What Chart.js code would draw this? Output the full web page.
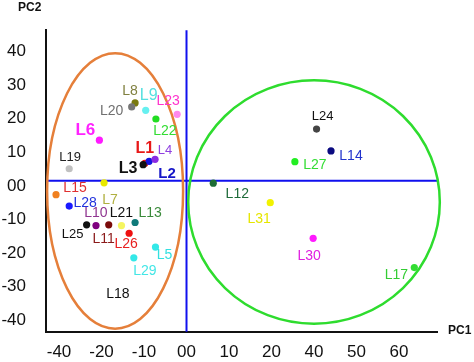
<!DOCTYPE html>
<html>
<head>
<meta charset="utf-8">
<script src="https://cdn.jsdelivr.net/npm/chart.js@4.4.1/dist/chart.umd.min.js"></script>
<style>
  html, body { margin: 0; padding: 0; background: #fff; }
  #wrap { width: 474px; height: 362px; position: relative; }
</style>
</head>
<body>
<div id="wrap"><canvas id="pca-chart"></canvas></div>
<script>
// Datos de la gráfica PCA (PC1 vs PC2)
const nombres = ['L1','L2','L3','L4','L5','L6','L7','L8','L9','L10','L11','L12','L13','L14','L15',
  'L17','L18','L19','L20','L21','L22','L23','L24','L25','L26','L27','L28','L29','L30','L31'];
const pc1 = [-9.8, -8.8, -10.2, -7.4, -7.3, -20.5, -19.4, -12.1, -9.6, -21.3, -18.3, 6.3, -12.1, 34.0, -30.7,
  53.6, -16.4, -27.6, -12.9, -15.3, -7.2, -2.2, 30.6, -23.5, -13.5, 25.5, -27.6, -12.4, 29.8, 19.7];
const pc2 = [6.7, 7.3, 6.3, 7.9, -18.2, 13.6, 0.9, 24.7, 22.5, -11.8, -11.6, 0.8, -10.9, 10.4, -2.6,
  -24.3, -29.0, 5.1, 23.5, -11.8, 19.9, 21.3, 16.9, -11.6, -14.1, 7.2, -6.0, -21.4, -15.6, -5.0];

// posiciones de las marcas y lo que dicen (la escala no es regular en PC1)
const ticksX = [-30, -20, -10, 0, 10, 20, 30, 40, 50];
const etiquetasX = ['-40', '-20', '-10', '00', '10', '20', '40', '50', '60'];
const ticksY = [-40, -30, -20, -10, 0, 10, 20, 30, 40];
const etiquetasY = ['-40', '-30', '-20', '-10', '00', '10', '20', '30', '40'];

// grupos (elipses): centro y radios en unidades de los ejes
const grupos = [
  { cx: -16.8, cy: -1.5, rx: 16.0, ry: 41.0, color: '#e57f3a' },
  { cx: 30.0, cy: -4.8, rx: 29.6, ry: 36.2, color: '#2edc2e' }
];

// estilos por punto
const coloresPunto = ['#e81818','#1515e0','#111111','#8a2be2','#33e8e8','#ff1aff','#e8e800','#7a7a10','#66f0f0','#800080',
  '#7a0a0a','#1d6b35','#0f7a7a','#0a0a80','#f08020','#33dd33','rgba(0,0,0,0)','#c0c0c0','#777777','#f5f560',
  '#22dd22','#ff88ee','#444444','#111111','#ee1111','#22ee22','#1a1aff','#33e8e8','#ff1aff','#f2f200'];
const coloresTexto = ['#e81818','#1515c8','#111111','#9040e0','#33e0e0','#ff22ff','#b0b040','#808040','#55e0e0','#903590',
  '#8b1a1a','#1f6b3a','#3a8a3a','#2233cc','#e03030','#33cc33','#111111','#222222','#707070','#111111',
  '#33dd33','#ff33cc','#111111','#111111','#e82020','#33dd33','#2233dd','#44e6e6','#e020e0','#e6e600'];
const fuentes = ['bold 16px','bold 15px','bold 16px','13px','14px','bold 17px','14px','14px','16px','14px',
  '14px','14px','14px','14px','14px','14px','14px','13px','14px','14px',
  '14px','14px','13px','13px','14px','14px','14px','14px','14px','14px'];
const desfases = [[0,-15],[18,13],[-15,4],[10,-9],[9,8],[-14,-10],[6,17],[-5,-12],[3,-15],[0,-12],
  [-5,14],[24,11],[15,-9],[20,5],[19,-6],[-18,8],[1,11],[1,-11],[-20,4],[0,-12],
  [9,12],[-9,-13],[6,-13],[-14,10],[-3,11],[20,3],[16,-3],[11,13],[-4,18],[-11,16]];

const puntos = nombres.map((n, i) => ({ x: pc1[i], y: pc2[i] }));

// dibuja ejes azules, elipses, nombres de los puntos y títulos
const extras = {
  id: 'extras',
  beforeDatasetsDraw(chart) {
    const { ctx, chartArea: a, scales: { x, y } } = chart;
    ctx.save();
    ctx.strokeStyle = '#1010ee';
    ctx.lineWidth = 2;
    ctx.beginPath();
    const y0 = y.getPixelForValue(1.5);
    ctx.moveTo(a.left, y0); ctx.lineTo(a.right, y0);
    const x0 = x.getPixelForValue(0);
    ctx.moveTo(x0, a.top); ctx.lineTo(x0, a.bottom);
    ctx.stroke();

    grupos.forEach(g => {
      const cx = x.getPixelForValue(g.cx), cy = y.getPixelForValue(g.cy);
      const rx = x.getPixelForValue(g.cx + g.rx) - cx;
      const ry = cy - y.getPixelForValue(g.cy + g.ry);
      ctx.strokeStyle = g.color;
      ctx.lineWidth = 2.5;
      ctx.beginPath();
      ctx.ellipse(cx, cy, rx, ry, 0, 0, Math.PI * 2);
      ctx.stroke();
    });
    ctx.restore();
  },
  afterDatasetsDraw(chart) {
    const { ctx, scales: { x, y } } = chart;
    ctx.save();
    ctx.textAlign = 'center';
    ctx.textBaseline = 'middle';
    nombres.forEach((n, i) => {
      ctx.font = fuentes[i] + ' "Liberation Sans", Arial, sans-serif';
      ctx.fillStyle = coloresTexto[i];
      ctx.fillText(n, x.getPixelForValue(pc1[i]) + desfases[i][0], y.getPixelForValue(pc2[i]) + desfases[i][1]);
    });
    ctx.fillStyle = '#111';
    ctx.font = 'bold 12px "Liberation Sans", Arial, sans-serif';
    ctx.textAlign = 'left';
    ctx.fillText('PC2', 18, 8);
    ctx.fillText('PC1', 448, 331);
    ctx.restore();
  }
};

const ctx = document.getElementById('pca-chart').getContext('2d');
const fuenteEjes = { family: '"Liberation Sans", Arial, sans-serif', size: 17 };

const chart = new Chart(ctx, {
  type: 'scatter',
  data: {
    datasets: [{
      label: 'PCA',
      data: puntos,
      pointBackgroundColor: coloresPunto,
      pointBorderWidth: 0,
      pointBorderColor: 'rgba(0,0,0,0)',
      pointRadius: 3.6,
      pointHoverRadius: 3.6
    }]
  },
  options: {
    responsive: true,
    maintainAspectRatio: false,
    animation: false,
    events: [],
    layout: { padding: { top: 14, right: 37, left: 0, bottom: 0 } },
    plugins: {
      legend: { display: false },
      tooltip: { enabled: false }
    },
    scales: {
      x: {
        type: 'linear',
        min: -33.06,
        max: 58.94,
        afterFit: s => { s.height = 30; },
        afterBuildTicks: s => { s.ticks = ticksX.map(v => ({ value: v })); },
        ticks: {
          color: '#111',
          font: fuenteEjes,
          padding: 10,
          maxRotation: 0,
          autoSkip: false,
          callback: (v, i) => etiquetasX[i]
        },
        grid: { display: false, drawTicks: false },
        border: { display: true, color: '#111', width: 2 }
      },
      y: {
        type: 'linear',
        min: -43.42,
        max: 46.33,
        afterFit: s => { s.width = 46; },
        afterBuildTicks: s => { s.ticks = ticksY.map(v => ({ value: v })); },
        ticks: {
          color: '#111',
          font: fuenteEjes,
          padding: 20,
          autoSkip: false,
          callback: (v, i) => etiquetasY[i]
        },
        grid: { display: false, drawTicks: false },
        border: { display: true, color: '#111', width: 2 }
      }
    }
  },
  plugins: [extras]
});
</script>
</body>
</html>
